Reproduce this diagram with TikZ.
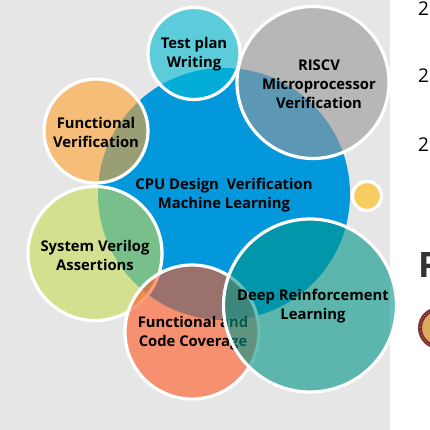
\documentclass[tikz,border=0pt]{standalone}
\usepackage{fontspec}
\setmainfont{Open Sans}
\definecolor{FondoGris}{HTML}{E6E6E6}
\definecolor{AzulCPU}{HTML}{0398DC}
\definecolor{CianPlan}{HTML}{00BCD4}
\definecolor{GrisRisc}{HTML}{989898}
\definecolor{NaranjaFunc}{HTML}{FFA22F}
\definecolor{VerdeAssert}{HTML}{C5DC55}
\definecolor{CoralCov}{HTML}{FF5722}
\definecolor{TealDeep}{HTML}{009688}
\definecolor{AmarilloDot}{HTML}{F5CE5F}
\definecolor{RojoSello}{HTML}{7E2A2A}
\definecolor{OroSello}{HTML}{DDA95A}
\tikzset{
  bubble/.style={draw=white,line width=3.2pt,fill opacity=0.6},
  bubbletext/.style={align=center,font=\fontsize{14.8}{19}\selectfont\bfseries,text=black},
  sidetext/.style={font=\fontsize{19}{20}\selectfont,text=black,anchor=west,inner sep=0pt}
}
\begin{document}
\begin{tikzpicture}[x=1pt,y=-1pt]
  \useasboundingbox (0,0) rectangle (430,430);
  \fill[FondoGris] (0,0) rectangle (390,430);
  \coordinate (CPU) at (224,194);
  \coordinate (Plan) at (194,53.5);
  \coordinate (Risc) at (313,82.5);
  \coordinate (Func) at (96,131);
  \coordinate (Assert) at (95,253.5);
  \coordinate (Cov) at (192,332);
  \coordinate (Deep) at (310,305.5);
  \coordinate (Dot) at (367,196);
  \fill[AzulCPU] (CPU) circle (126);
  \draw[white,line width=3.2pt,fill=AmarilloDot] (Dot) circle (14.5);
  \node[bubbletext] (cputext) at (224,195) {CPU Design\ \ Verification\\Machine Learning};
  \draw[bubble,fill=CianPlan] (Plan) circle (46);
  \draw[bubble,fill=GrisRisc] (Risc) circle (76);
  \draw[bubble,fill=NaranjaFunc] (Func) circle (52);
  \draw[bubble,fill=VerdeAssert] (Assert) circle (67);
  \node[bubbletext] (plantext) at (194,54.5) {Test plan\\Writing};
  \node[bubbletext] (risctext) at (319,84) {RISCV\\Microprocessor\\Verification};
  \node[bubbletext] (functext) at (96,132) {Functional\\Verification};
  \node[bubbletext] (asserttext) at (95,255) {System Verilog\\Assertions};
  \draw[bubble,fill=CoralCov] (Cov) circle (67);
  \node[bubbletext] (covtext) at (193,333.5) {Functional and\\Code Coverage};
  \draw[bubble,fill=TealDeep] (Deep) circle (86.5);
  \node[bubbletext] (deeptext) at (313,306.5) {Deep Reinforcement\\Learning};
  % lado derecho
  \foreach \Y/\Name in {9/a,76/b,145/c} \node[sidetext] (dos\Name) at (418,\Y) {2};
  \node[sidetext,font=\fontsize{35}{35}\selectfont\bfseries,text=black!80] (letra) at (418,265) {P};
  \draw[RojoSello,line width=4pt,fill=OroSello] (439,328) circle (19);
  \draw[white!80!RojoSello,line width=0.6pt,dotted] (439,328) circle (19);
\end{tikzpicture}
\end{document}
